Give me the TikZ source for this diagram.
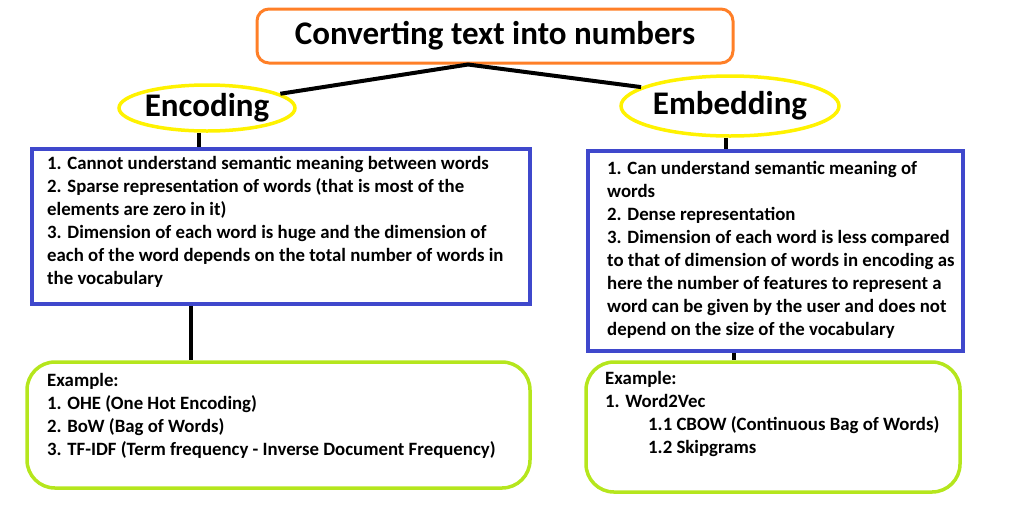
\documentclass[tikz,border=0pt]{standalone}
\usepackage{fontspec}
\setmainfont{Carlito}
\usetikzlibrary{shapes.geometric,positioning}
\definecolor{paintorange}{RGB}{255,127,39}
\definecolor{paintyellow}{RGB}{255,242,0}
\definecolor{paintblue}{RGB}{63,72,204}
\definecolor{paintlime}{RGB}{181,230,29}

\begin{document}
\begin{tikzpicture}[x=1pt,y=-1pt,
    head/.style={draw=paintorange,line width=3pt,rounded corners=12pt,minimum width=476pt,minimum height=54pt,inner sep=0pt,font=\fontsize{33}{40}\selectfont\bfseries},
    branch/.style={ellipse,draw=paintyellow,line width=3.5pt,inner sep=0pt,font=\fontsize{33}{40}\selectfont\bfseries},
    infobox/.style={draw=paintblue,line width=3.5pt,inner sep=0pt},
    examplebox/.style={draw=paintlime,line width=3.5pt,inner sep=0pt,rounded corners=28pt},
    boxtext/.style={anchor=north west,inner sep=0pt,align=left,font=\fontsize{18.8}{23}\selectfont\bfseries},
    link/.style={line width=4pt}]
    \useasboundingbox (0,0) rectangle (1019,507);

    % title and the two branches
    \node[head]                                            (title) at (495,36)  {Converting text into numbers};
    \node[branch,minimum width=176pt,minimum height=46pt]  (enc)   at (207,108) {Encoding};
    \node[branch,minimum width=201pt,minimum height=60pt]  (emb)   at (730,106) {Embedding};

    % frames
    \node[infobox,minimum width=498pt,minimum height=155pt]    (encbox) at (281,226.5) {};
    \node[infobox,minimum width=375pt,minimum height=200pt]    (embbox) at (775.5,251) {};
    \node[examplebox,minimum width=503pt,minimum height=126pt] (encex)  at (278.5,425) {};
    \node[examplebox,minimum width=374pt,minimum height=130pt] (embex)  at (773,427)   {};

    % texts
    \node[boxtext] (enctext) at (47,156) {1. Cannot understand semantic meaning between words\\
        2. Sparse representation of words (that is most of the\\
        elements are zero in it)\\
        3. Dimension of each word is huge and the dimension of\\
        each of the word depends on the total number of words in\\
        the vocabulary};
    \node[boxtext] (embtext) at (607,161.5) {1. Can understand semantic meaning of\\
        words\\
        2. Dense representation\\
        3. Dimension of each word is less compared\\
        to that of dimension of words in encoding as\\
        here the number of features to represent a\\
        word can be given by the user and does not\\
        depend on the size of the vocabulary};
    \node[boxtext] (encextext) at (47,373) {Example:\\
        1. OHE (One Hot Encoding)\\
        2. BoW (Bag of Words)\\
        3. TF-IDF (Term frequency - Inverse Document Frequency)};
    \node[boxtext] (embextext) at (605,371) {Example:\\
        1. Word2Vec\\
        \hspace*{43pt}1.1 CBOW (Continuous Bag of Words)\\
        \hspace*{43pt}1.2 Skipgrams};

    % connectors
    \coordinate (apex) at ([xshift=-27pt]title.south);
    \draw[link] (enc.11) -- (apex) -- (emb.168);
    \draw[link] ([xshift=-8pt]enc.south) -- ([xshift=-8pt]enc.south |- encbox.north);
    \draw[link] ([xshift=-4pt]emb.south) -- ([xshift=-4pt]emb.south |- embbox.north);
    \draw[link] ([xshift=-90pt]encbox.south) -- ([xshift=-90pt]encbox.south |- encex.north);
    \draw[link] ([xshift=-41.5pt]embbox.south) -- ([xshift=-41.5pt]embbox.south |- embex.north);
\end{tikzpicture}
\end{document}
